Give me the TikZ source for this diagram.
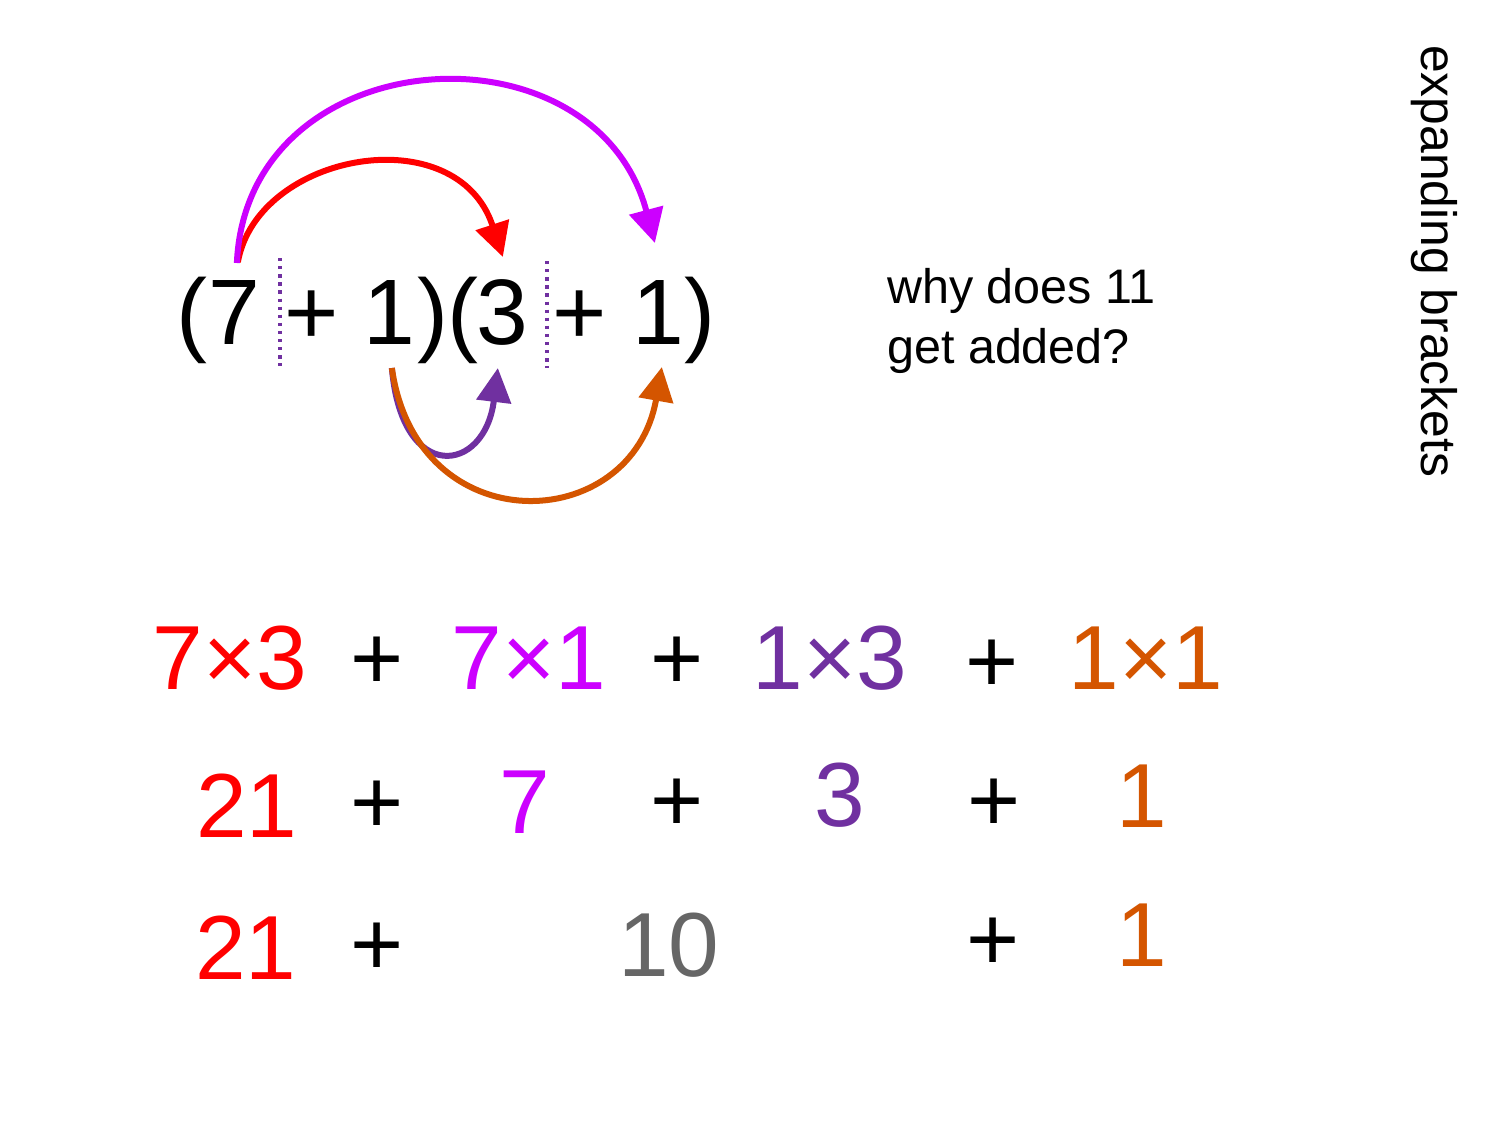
\documentclass[tikz,border=0pt]{standalone}
\usepackage{fontspec}
\setmainfont{Liberation Sans}
\usetikzlibrary{arrows.meta}

\definecolor{tred}{HTML}{FF0000}
\definecolor{tmagenta}{HTML}{CC00FF}
\definecolor{tpurple}{HTML}{7030A0}
\definecolor{torange}{HTML}{D45500}
\definecolor{tgray}{HTML}{666666}

\newcommand{\exprfont}{\fontsize{93}{100}\selectfont}
\newcommand{\termfont}{\fontsize{91}{100}\selectfont}
\newcommand{\notefont}{\fontsize{48.5}{60}\selectfont}
\newcommand{\sidefont}{\fontsize{49.8}{60}\selectfont}

\begin{document}
\begin{tikzpicture}[x=1pt, y=-1pt,
  expr/.style={inner sep=0pt, outer sep=0pt, anchor=base west, font=\exprfont},
  term/.style={inner sep=0pt, outer sep=0pt, anchor=base, font=\termfont},
  note/.style={inner sep=0pt, anchor=base west, font=\notefont},
  curve/.style={line width=6pt, -{Triangle[length=34pt, width=34pt]}},
  sepline/.style={draw=tpurple, line width=3.3pt, dash pattern=on 3.3pt off 4.8pt}]

  \path[fill=white] (0,0) rectangle (1500,1125);

  % the two brackets
  \node[expr] (lpA) at (176.5,344) {(};
  \node[expr] (d7)  at (208,344)   {7};
  \node[expr] (plA) at (284.5,344) {+};
  \node[expr] (d1a) at (363,344)   {1};
  \node[expr] (rpA) at (417,344)   {)(};
  \node[expr] (d3)  at (476,344)   {3};
  \node[expr] (plB) at (552.5,344) {+};
  \node[expr] (d1b) at (632,344)   {1};
  \node[expr] (rpB) at (684.5,344) {)};

  \draw[sepline] (280,258) -- (280,366);
  \draw[sepline] (547,261) -- (547,368);

  % first term times both of the second bracket
  \draw[curve, tred] ([shift={(4,-82)}]d7.base)
    .. controls +(20,-110) and +(-46,-140) .. ([shift={(1,-87)}]d3.base);
  \draw[curve, tmagenta] ([shift={(3,-81)}]d7.base)
    .. controls +(10,-225) and +(-60,-226) .. ([shift={(-3,-101)}]d1b.base);

  % second term times both of the second bracket
  \draw[curve, tpurple] ([shift={(3,24)}]d1a.base)
    .. controls +(10,117) and +(-13,106) .. ([shift={(-4,24)}]d3.base);
  \draw[curve, torange] ([shift={(3,24)}]d1a.base)
    .. controls +(25,176) and +(-30,169) .. ([shift={(4,23)}]d1b.base);

  \node[note] (askA) at (887,303) {why does 11};
  \node[note] (askB) at (887,363) {get added?};

  \node[inner sep=0pt, font=\sidefont, rotate=-90, anchor=base west]
    (title) at (1421,45) {expanding brackets};

  % the four products
  \node[term, tred]     (prodA) at (230,689)   {7×3};
  \node[term]           (sumA)  at (377.5,689) {+};
  \node[term, tmagenta] (prodB) at (529,689)   {7×1};
  \node[term]           (sumB)  at (677,689)   {+};
  \node[term, tpurple]  (prodC) at (830,689)   {1×3};
  \node[term]           (sumC)  at (992,692)   {+};
  \node[term, torange]  (prodD) at (1146,689)  {1×1};

  \node[term, tred]     (valA)  at (247,837)   {21};
  \node[term]           (sumD)  at (377,833.5) {+};
  \node[term, tmagenta] (valB)  at (525,833)   {7};
  \node[term]           (sumE)  at (677,831.5) {+};
  \node[term, tpurple]  (valC)  at (840,826)   {3};
  \node[term]           (sumF)  at (994.5,831.5) {+};
  \node[term, torange]  (valD)  at (1142,827)  {1};

  \node[term, tred]     (totA)  at (246,979)   {21};
  \node[term]           (sumG)  at (377,975.5) {+};
  \node[term, tgray]    (totB)  at (669,976)   {10};
  \node[term]           (sumH)  at (993.5,970) {+};
  \node[term, torange]  (totC)  at (1142,966)  {1};

\end{tikzpicture}
\end{document}
